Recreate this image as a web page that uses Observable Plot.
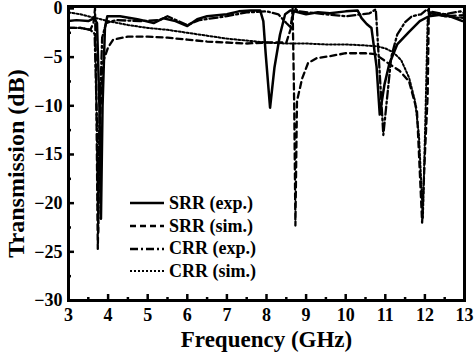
<!DOCTYPE html>
<html><head><meta charset="utf-8">
<script src="https://cdn.jsdelivr.net/npm/d3@7"></script>
<script src="https://cdn.jsdelivr.net/npm/@observablehq/plot@0.6"></script>
<style>
body{margin:0;background:#fff;}
#wrap{position:relative;width:474px;height:357px;overflow:hidden;}
#legend{position:absolute;left:130px;top:192px;font-family:"Liberation Serif";font-weight:bold;font-size:18px;color:#000;}
#legend .row{height:22.7px;display:flex;align-items:center;white-space:nowrap;}
#legend svg{margin-right:5px;}
</style></head><body><div id="wrap"><div id="legend"></div></div>
<script>
// Frequencies (GHz) and transmission (dB)
const srrExpF  = [3.0,3.2,3.5,3.65,3.72,3.78,3.82,3.86,3.92,3.98,4.3,4.74,5.15,5.4,5.7,6.0,6.25,6.5,7.0,7.3,7.6,7.84,7.92,7.98,8.09,8.2,8.34,8.47,8.6,9.0,9.3,9.6,10.0,10.3,10.4,10.53,10.65,10.78,10.86,10.98,11.1,11.3,11.6,11.87,12.1,12.5,12.95,13.0];
const srrExpDb = [-1.3,-1.2,-1.3,-1.0,-1.5,-10,-21.6,-10,-2.0,-0.8,-0.8,-1.1,-1.5,-1.0,-1.3,-1.8,-1.1,-0.8,-0.6,-0.3,-0.2,-0.2,-1.3,-4.7,-10.2,-6.1,-2.7,-0.6,-0.2,-0.6,-0.4,-0.5,-0.3,-0.2,-1.0,-1.6,-2.0,-6.0,-10.9,-7.8,-5.7,-3.7,-2.4,-1.3,-0.8,-0.6,-1.3,-1.3];

const srrSimF  = [3.0,3.3,3.55,3.63,3.67,3.7,3.74,3.78,3.83,3.88,4.0,4.13,4.5,5.0,5.5,6.0,6.5,7.0,7.5,8.0,8.5,8.62,8.66,8.7,8.73,8.77,8.9,9.05,9.27,9.6,10.0,10.5,10.75,11.1,11.36,11.6,11.8,11.93,12.0,12.07,12.1,12.15,12.5,13.0];
const srrSimDb = [-2.0,-2.0,-2.2,-1.5,0,-8,-24.7,-14,-8,-5.4,-4.0,-3.2,-2.9,-2.9,-3.0,-3.2,-3.4,-3.5,-3.6,-3.5,-3.5,-2.0,0,-10,-22.3,-9.5,-7.2,-5.6,-5.1,-4.9,-4.6,-4.6,-4.7,-5.7,-6.4,-7.5,-10.5,-22,-15,-9,0,-0.5,-0.8,-0.7];

const crrExpF  = [3.0,3.3,3.55,3.66,3.72,3.75,3.78,3.85,3.95,4.2,4.8,5.3,5.5,6.0,6.3,7.0,7.5,8.0,8.3,8.5,8.6,8.68,8.72,8.8,9.5,10.0,10.4,10.6,10.76,10.85,10.95,11.05,11.15,11.3,11.5,11.67,11.9,12.05,12.1,12.5,12.9,13.0];
const crrExpDb = [-2.0,-2.0,-2.2,-2.6,-12,-23,-12,-3,-1.5,-1.2,-1.3,-1.2,-0.8,-1.7,-1.2,-0.8,-0.4,-0.3,-0.6,-1.5,-1.9,-0.5,0,-0.3,-0.6,-0.8,-0.6,-0.5,-0.1,-6,-13,-9,-5,-2.7,-1.4,-0.8,-0.6,-0.1,-0.3,-0.6,-0.3,-0.5];

const crrSimF  = [3.0,3.3,3.7,4.0,4.5,5.0,5.5,6.0,6.5,7.0,7.5,8.0,8.5,9.0,9.5,10.0,10.5,10.8,11.0,11.2,11.4,11.6,11.75,11.85,11.95,12.02,12.07,12.15,12.5,13.0];
const crrSimDb = [-0.4,-0.6,-1.0,-1.3,-1.7,-2.0,-2.2,-2.5,-2.8,-3.1,-3.3,-3.5,-3.6,-3.6,-3.7,-3.7,-3.8,-3.9,-4.1,-4.5,-5.3,-7.1,-9.5,-13,-21.5,-10,-1,-0.5,-0.8,-1.0];

const xMajor = [3,4,5,6,7,8,9,10,11,12,13];
const xMinor = [3.5,4.5,5.5,6.5,7.5,8.5,9.5,10.5,11.5,12.5];
const yMajor = [-30,-25,-20,-15,-10,-5,0];
const yMinor = [-27.5,-22.5,-17.5,-12.5,-7.5,-2.5];

const seriesNames = ["SRR (exp.)","SRR (sim.)","CRR (exp.)","CRR (sim.)"];
const dashes = [null,"6,4","8,3,2,3","2,2"];
const widths = [2.5,2.3,2.3,2];

const toRows = (F, D) => F.map((f, i) => ({f, db: D[i]}));
const series = [toRows(srrExpF, srrExpDb), toRows(srrSimF, srrSimDb), toRows(crrExpF, crrExpDb), toRows(crrSimF, crrSimDb)];

const chart = Plot.plot({
  width: 474, height: 357,
  marginLeft: 68, marginRight: 10, marginTop: 6, marginBottom: 57,
  style: {fontFamily: "Liberation Serif", fontWeight: "bold", fontSize: "18px", color: "#000", background: "#fff"},
  x: {domain: [3, 13], label: null},
  y: {domain: [-30, 0.2], label: null},
  marks: [
    ...series.map((rows, i) => Plot.line(rows, {x: "f", y: "db", stroke: "#000", strokeWidth: widths[i], strokeDasharray: dashes[i]})),
    Plot.axisX({ticks: xMajor, tickSize: 0, tickPadding: 8, tickFormat: d3.format("d"), label: null}),
    Plot.axisX({ticks: xMajor, tickSize: -6, tickFormat: () => "", strokeWidth: 2.5, label: null}),
    Plot.axisX({ticks: xMinor, tickSize: -3, tickFormat: () => "", strokeWidth: 2.5, label: null}),
    Plot.axisY({ticks: yMajor, tickSize: 0, tickPadding: 6, label: null}),
    Plot.axisY({ticks: yMajor, tickSize: -6, tickFormat: () => "", strokeWidth: 2.5, label: null}),
    Plot.axisY({ticks: yMinor, tickSize: -3, tickFormat: () => "", strokeWidth: 2.5, label: null}),
    Plot.frame({stroke: "#000", strokeWidth: 3}),
    Plot.text(["Frequency (GHz)"], {frameAnchor: "bottom", dy: 46, fontSize: 23, fontWeight: "bold"}),
    Plot.text(["Transmission (dB)"], {frameAnchor: "left", textAnchor: "middle", rotate: -90, dx: -52, dy: 10, fontSize: 24, fontWeight: "bold"})
  ]
});
chart.querySelectorAll("text").forEach(t => { t.style.fontFamily = "'Liberation Serif'"; });
const wrap = document.getElementById("wrap");
wrap.insertBefore(chart, wrap.firstChild);

const legend = document.getElementById("legend");
seriesNames.forEach((name, i) => {
  const row = document.createElement("div");
  row.className = "row";
  row.innerHTML = `<svg width="34" height="6"><line x1="0" y1="3" x2="34" y2="3" stroke="#000" stroke-width="${widths[i]}" ${dashes[i] ? `stroke-dasharray="${dashes[i]}"` : ""}/></svg><span>${name}</span>`;
  legend.appendChild(row);
});
</script>
</body></html>
